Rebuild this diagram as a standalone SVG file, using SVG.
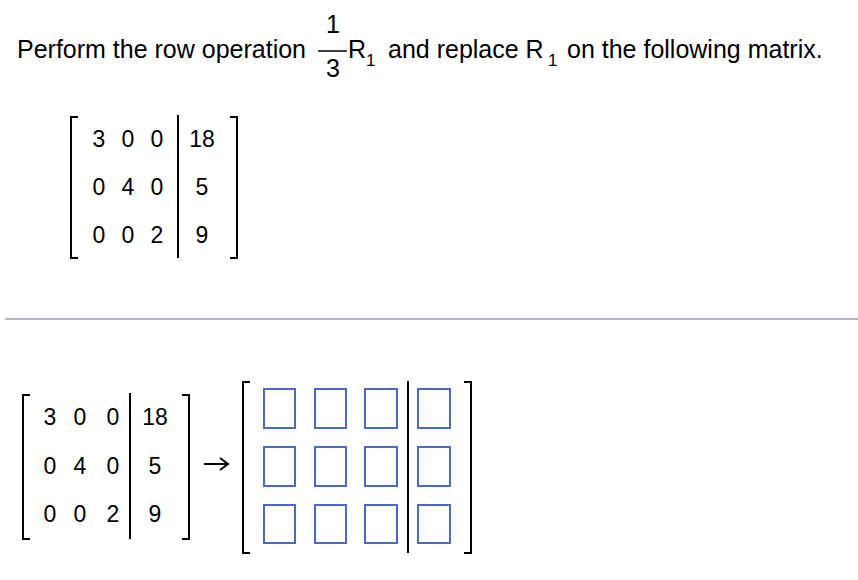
<svg xmlns="http://www.w3.org/2000/svg" width="858" height="580" viewBox="0 0 858 580">
<style>
text{font-family:"Liberation Sans",Arial,sans-serif;fill:#000}
.t{font-size:25px}
.s{font-size:17px}
.m{font-size:23px;text-anchor:middle}
.b{fill:none;stroke:#000;stroke-width:2}
.box{fill:#fff;stroke:#4a67c9;stroke-width:2}
</style>
<rect width="858" height="580" fill="#fff"/>
<g id="title">
<text class="t" x="17" y="58">Perform the row operation</text>
<text class="t" x="333" y="33" text-anchor="middle">1</text>
<line x1="318" y1="51" x2="347" y2="51" stroke="#000" stroke-width="1.5"/>
<text class="t" x="333" y="77" text-anchor="middle">3</text>
<text class="t" x="348" y="58">R</text>
<text class="s" x="366" y="66">1</text>
<text class="t" x="388" y="58">and replace R</text>
<text class="s" x="548" y="66">1</text>
<text class="t" x="567" y="58">on the following matrix.</text>
</g>
<g id="matrix1">
<path class="b" d="M78,117 H71 V258 H78 M230,117 H237 V258 H230"/>
<line class="b" x1="178" y1="115" x2="178" y2="258"/>
<text class="m" x="99" y="147">3</text><text class="m" x="128" y="147">0</text><text class="m" x="157" y="147">0</text><text class="m" x="202" y="147">18</text>
<text class="m" x="99" y="195">0</text><text class="m" x="128" y="195">4</text><text class="m" x="157" y="195">0</text><text class="m" x="202" y="195">5</text>
<text class="m" x="99" y="243">0</text><text class="m" x="128" y="243">0</text><text class="m" x="157" y="243">2</text><text class="m" x="202" y="243">9</text>
</g>
<line id="divider" x1="5" y1="319" x2="858" y2="319" stroke="#9a9ea8" stroke-width="1.5"/>
<g id="matrix2">
<path class="b" d="M30,395 H23 V539 H30 M182,395 H189 V539 H182"/>
<line class="b" x1="130" y1="393" x2="130" y2="539"/>
<text class="m" x="50" y="425">3</text><text class="m" x="80" y="425">0</text><text class="m" x="113" y="425">0</text><text class="m" x="155" y="425">18</text>
<text class="m" x="50" y="474">0</text><text class="m" x="80" y="474">4</text><text class="m" x="113" y="474">0</text><text class="m" x="155" y="474">5</text>
<text class="m" x="50" y="522">0</text><text class="m" x="80" y="522">0</text><text class="m" x="113" y="522">2</text><text class="m" x="155" y="522">9</text>
</g>
<g id="arrow">
<line x1="204" y1="464" x2="227" y2="464" stroke="#000" stroke-width="2"/>
<path d="M220,458 L228,464 L220,470" fill="none" stroke="#000" stroke-width="2"/>
</g>
<g id="result">
<path class="b" d="M250,382 H243 V553 H250 M464,382 H471 V553 H464"/>
<line class="b" x1="408" y1="381" x2="408" y2="553"/>
<rect class="box" x="264" y="389" width="31" height="39"/><rect class="box" x="315" y="389" width="31" height="39"/><rect class="box" x="365" y="389" width="32" height="39"/><rect class="box" x="418" y="389" width="32" height="39"/>
<rect class="box" x="264" y="447" width="31" height="39"/><rect class="box" x="315" y="447" width="31" height="39"/><rect class="box" x="365" y="447" width="32" height="39"/><rect class="box" x="418" y="447" width="32" height="39"/>
<rect class="box" x="264" y="505" width="31" height="38"/><rect class="box" x="315" y="505" width="31" height="38"/><rect class="box" x="365" y="505" width="32" height="38"/><rect class="box" x="418" y="505" width="32" height="38"/>
</g>
</svg>
